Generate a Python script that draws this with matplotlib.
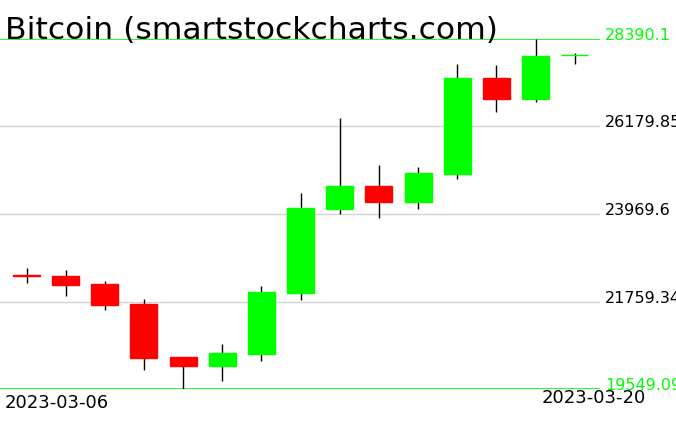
import matplotlib
matplotlib.use("Agg")
import matplotlib.pyplot as plt

# 日K数据
dates = ["2023-03-06", "2023-03-07", "2023-03-08", "2023-03-09", "2023-03-10",
         "2023-03-11", "2023-03-12", "2023-03-13", "2023-03-14", "2023-03-15",
         "2023-03-16", "2023-03-17", "2023-03-18", "2023-03-19", "2023-03-20"]
opens = [22420, 22404, 22201, 21696, 20365, 20138, 20441, 21982, 24104, 24685,
         24280, 24980, 27405, 26875, 27975]
highs = [22606, 22555, 22277, 21823, 20370, 20686, 22151, 24500, 26395, 25207,
         25157, 27766, 27733, 28390.1, 28037]
lows = [22234, 21906, 21552, 20037, 19549.09, 19759, 20264, 21805, 23977, 23876,
        24096, 24854, 26554, 26806, 27766]
closes = [22400, 22184, 21679, 20340, 20138, 20459, 21999, 24121, 24677, 24280,
          25005, 27405, 26875, 27961, 27990]

y_top = 28390.1
y_bottom = 19549.09
grid_levels = [26179.85, 23969.6, 21759.34]
grid_labels = ["26179.85", "23969.6", "21759.34"]

W, H = 676, 431
fig = plt.figure(figsize=(W / 100, H / 100), dpi=100)
ax = fig.add_axes([0, (H - 390) / H, 600 / W, 350 / H])
ax.set_axis_off()

green = "#00ff00"
red = "#ff0000"

x = list(range(len(dates)))
ax.set_xlim(-0.677, 14.646)
ax.set_ylim(y_bottom, y_top)

# 网格线
for lv in grid_levels:
    ax.axhline(lv, color="#d3d3d3", linewidth=1.0, zorder=1)
ax.axhline(y_top, color=green, linewidth=1.2, zorder=1)
ax.axhline(y_bottom, color=green, linewidth=1.2, zorder=1)

# K线
for i in x:
    o, h, l, c = opens[i], highs[i], lows[i], closes[i]
    col = green if c >= o else red
    ax.vlines(i, l, h, color="black", linewidth=1.0, zorder=2)
    ax.bar(i, abs(c - o), bottom=min(o, c), width=0.69, color=col,
           edgecolor=col, linewidth=1.0, zorder=3)

# 右侧价格标签
tr = ax.get_yaxis_transform()
lx = 605 / 600
ax.text(lx, y_top, "28390.1", transform=tr, color=green, fontsize=11.5,
        va="baseline", ha="left", clip_on=False)
ax.text(lx, y_bottom, "19549.09", transform=tr, color=green, fontsize=11.5,
        va="baseline", ha="left", clip_on=False)
for lv, lab in zip(grid_levels, grid_labels):
    ax.text(lx, lv, lab, transform=tr, color="black", fontsize=11.5,
            va="baseline", ha="left", clip_on=False)

# 标题和日期
fig.text(5 / W, 1 - 39 / H, "Bitcoin (smartstockcharts.com)", fontsize=22.6,
         va="baseline", ha="left", color="black")
fig.text(5 / W, 1 - 394 / H, dates[0], fontsize=13, va="top", ha="left")
fig.text(646 / W, 1 - 389 / H, dates[-1], fontsize=13, va="top", ha="right")

fig.savefig("out.png", dpi=100, facecolor="white")
